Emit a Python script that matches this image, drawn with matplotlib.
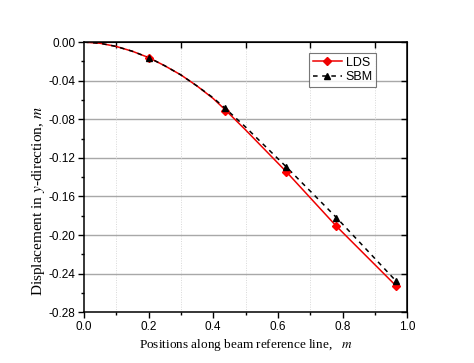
import matplotlib
matplotlib.use("Agg")
import matplotlib.pyplot as plt
from matplotlib.ticker import MultipleLocator, FixedLocator

plt.rcParams['font.family'] = ['Liberation Sans', 'DejaVu Sans']
plt.rcParams['mathtext.fontset'] = 'stix'

# curve points
lds_line_x = [0.0, 0.05, 0.1, 0.15, 0.2, 0.25, 0.3, 0.35, 0.4, 0.435, 0.5, 0.625, 0.78, 0.965]
lds_line_y = [0.0, -0.0012, -0.0045, -0.0095, -0.016, -0.0245, -0.034, -0.0455, -0.0585,
              -0.0695, -0.091, -0.134, -0.1905, -0.2525]
sbm_line_x = [0.0, 0.05, 0.1, 0.15, 0.2, 0.25, 0.3, 0.35, 0.4, 0.435, 0.5, 0.625, 0.78, 0.965]
sbm_line_y = [0.0, -0.0012, -0.0045, -0.0095, -0.016, -0.0245, -0.034, -0.0455, -0.0578,
              -0.0680, -0.088, -0.1290, -0.1815, -0.2475]

# marker points
mk_x = [0.2, 0.435, 0.625, 0.78, 0.965]
lds_mk_y = [-0.016, -0.071, -0.135, -0.191, -0.253]
sbm_mk_y = [-0.016, -0.0685, -0.1295, -0.182, -0.248]

xticks = [0.0, 0.2, 0.4, 0.6, 0.8, 1.0]
yticks = [0.00, -0.04, -0.08, -0.12, -0.16, -0.20, -0.24, -0.28]

fig = plt.figure(figsize=(4.74, 3.63), dpi=100)
ax = fig.add_axes([0.177, 0.140, 0.682, 0.744])

ax.set_xlim(0, 1.0)
ax.set_ylim(-0.28, 0.0)

# grids
for gy in yticks[1:-1]:
    ax.axhline(gy, color='#a8a8a8', lw=1.0, zorder=0)
for gx in [0.1, 0.3, 0.5, 0.7, 0.9]:
    ax.axvline(gx, color='#d8d8d8', lw=0.7, ls=(0, (1, 1.5)), zorder=0)

ax.plot(lds_line_x, lds_line_y, color='#ee0000', lw=1.1, zorder=2)
ax.plot(sbm_line_x, sbm_line_y, color='black', lw=1.1, ls=(0, (3, 3)), zorder=3)
ax.plot(mk_x, lds_mk_y, ls='none', marker='D', ms=4, color='#ff0000', zorder=4)
ax.plot(mk_x, sbm_mk_y, ls='none', marker='^', ms=5, color='black', zorder=4)

# legend proxies
h1, = ax.plot([], [], color='#ee0000', lw=1.1, marker='D', ms=4)
h2, = ax.plot([], [], color='black', lw=1.1, ls=(0, (3, 3)), marker='^', ms=5)
leg = ax.legend([h1, h2], ['LDS', 'SBM'], loc='upper right', bbox_to_anchor=(0.905, 0.96),
                fontsize=9, frameon=True, fancybox=False, handlelength=2.3,
                borderpad=0.3, labelspacing=0.2, handletextpad=0.3, borderaxespad=0)
leg.get_frame().set_edgecolor('#555555')
leg.get_frame().set_linewidth(0.8)

ax.xaxis.set_major_locator(FixedLocator(xticks))
ax.yaxis.set_major_locator(FixedLocator(yticks))
ax.xaxis.set_minor_locator(MultipleLocator(0.1))
ax.yaxis.set_minor_locator(MultipleLocator(0.02))
ax.set_xticklabels(['%.1f' % v for v in xticks])
ax.set_yticklabels(['%.2f' % v for v in yticks])

ax.tick_params(axis='both', which='major', direction='out', length=4, width=1, labelsize=8.5, pad=2)
ax.tick_params(axis='both', which='minor', direction='out', length=2.5, width=1)

for s in ax.spines.values():
    s.set_linewidth(1.1)

# top and right ticks (inward)
axt = ax.secondary_xaxis('top')
axt.xaxis.set_major_locator(FixedLocator([0.1, 0.3, 0.5, 0.7, 0.9]))
axt.xaxis.set_minor_locator(FixedLocator([]))
axt.tick_params(direction='in', length=4, width=1, labeltop=False)
axr = ax.secondary_yaxis('right')
axr.yaxis.set_major_locator(FixedLocator(yticks))
axr.yaxis.set_minor_locator(FixedLocator([]))
axr.tick_params(direction='in', length=4, width=1, labelright=False)

ax.set_xlabel(r'Positions along beam reference line,   $m$', family='Liberation Serif', fontsize=9.5, labelpad=3)
ax.set_ylabel(r'Displacement in $y$-direction, $m$', family='Liberation Serif', fontsize=11)
ax.yaxis.set_label_coords(-0.115, 0.41)

fig.savefig('out.png', dpi=100, facecolor='white')
